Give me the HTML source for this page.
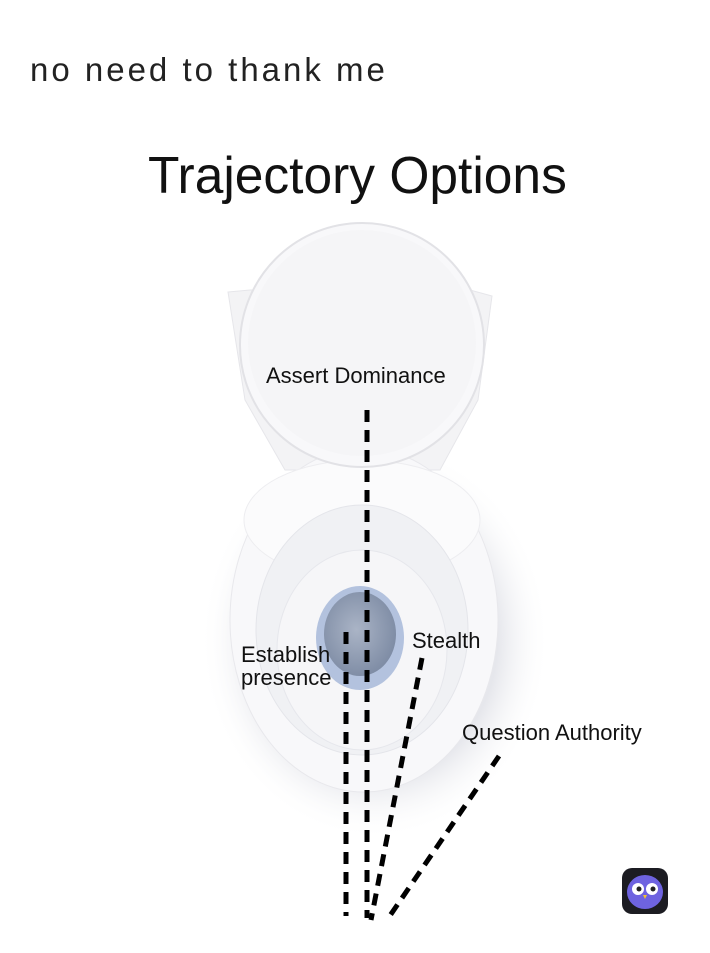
<!DOCTYPE html>
<html><head><style>
body{margin:0;width:710px;height:953px;background:#fff;overflow:hidden;position:relative;font-family:"Liberation Sans",sans-serif;}
.t{position:absolute;color:#111;white-space:nowrap}
</style></head><body>
<div class="t" style="left:30px;top:51px;font-size:33px;color:#222;letter-spacing:3px">no need to thank me</div>
<div class="t" style="left:148px;top:145px;font-size:51.5px">Trajectory Options</div>
<svg width="710" height="953" style="position:absolute;left:0;top:0">
<defs>
<radialGradient id="sh" cx="0.5" cy="0.5" r="0.5"><stop offset="0.7" stop-color="#e6e7ec"/><stop offset="1" stop-color="#fff" stop-opacity="0"/></radialGradient>
<radialGradient id="w" cx="0.45" cy="0.45" r="0.6"><stop offset="0" stop-color="#aab4c6"/><stop offset="1" stop-color="#7c8aa3"/></radialGradient>
</defs>
<ellipse cx="375" cy="640" rx="175" ry="200" fill="url(#sh)"/>
<path d="M228 292 L250 290 L470 290 L492 296 L478 400 L440 470 L285 470 L245 400 Z" fill="#f3f3f5" stroke="#e6e6ea"/>
<ellipse cx="364" cy="620" rx="134" ry="172" fill="#f8f8fa" stroke="#e8e8ec"/>
<ellipse cx="362" cy="520" rx="118" ry="60" fill="#fbfbfc" stroke="#ededf0"/>
<ellipse cx="362" cy="630" rx="106" ry="125" fill="#f0f1f4" stroke="#e4e5ea"/>
<ellipse cx="362" cy="650" rx="85" ry="100" fill="#f6f6f8" stroke="#e6e7ec"/>
<ellipse cx="360" cy="638" rx="44" ry="52" fill="#b3c2de"/>
<ellipse cx="360" cy="634" rx="36" ry="42" fill="url(#w)"/>
<ellipse cx="362" cy="345" rx="122" ry="122" fill="#f8f8fa" stroke="#e2e2e6" stroke-width="2"/>
<ellipse cx="362" cy="343" rx="114" ry="113" fill="#f5f5f7"/>
<g stroke="#000" stroke-width="5" stroke-dasharray="12 8" fill="none">
<line x1="367" y1="410" x2="367" y2="918"/>
<line x1="346" y1="632" x2="346" y2="916"/>
<line x1="422" y1="658" x2="371" y2="920"/>
<line x1="499" y1="756" x2="387" y2="920"/>
</g>
<rect x="622" y="868" width="46" height="46" rx="10" fill="#1c1c22"/>
<ellipse cx="645" cy="892" rx="18" ry="17" fill="#6e63e0"/>
<circle cx="638" cy="889" r="6" fill="#fff"/><circle cx="652" cy="889" r="6" fill="#fff"/>
<circle cx="639" cy="889" r="2.5" fill="#222"/><circle cx="653" cy="889" r="2.5" fill="#222"/>
<path d="M643 895 L647 895 L645 899Z" fill="#f2c230"/>
</svg>
<div class="t" style="left:266px;top:363px;font-size:22px">Assert Dominance</div>
<div class="t" style="left:241px;top:643px;font-size:22px;line-height:23px">Establish<br>presence</div>
<div class="t" style="left:412px;top:628px;font-size:22px">Stealth</div>
<div class="t" style="left:462px;top:720px;font-size:22px">Question Authority</div>
</body></html>
